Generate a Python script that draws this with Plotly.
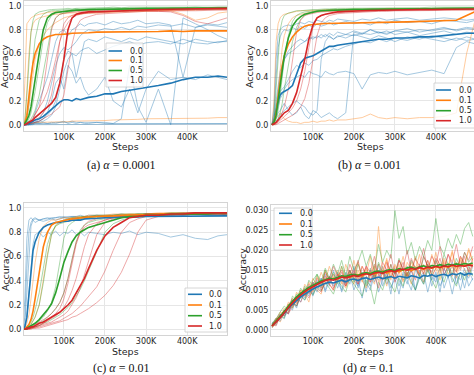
import plotly.graph_objects as go

W, H = 474, 375

# ---------------- data ----------------
STEPS_K = [0, 5, 10, 15, 20, 25, 30, 40, 50, 60, 70, 80, 90, 100, 110, 120, 130, 140, 150, 160,
           180, 200, 220, 240, 260, 280, 300, 330, 360, 390, 420, 450, 475, 497]
STEPS_D_K = [0, 10, 20, 30, 40, 50, 60, 70, 80, 90, 100, 110, 120, 130, 140, 150, 160, 170, 180, 190,
             200, 210, 220, 230, 240, 250, 260, 270, 280, 290, 300, 310, 320, 330, 340, 350, 360, 370,
             380, 390, 400, 410, 420, 430, 440, 450, 460, 470, 480, 490]
SERIES = ["0.0", "0.1", "0.5", "1.0"]
X_TICKS_K = [100, 200, 300, 400]
X_TICK_TEXT = ["100K", "200K", "300K", "400K"]
Y_TICKS_ABC = [0.0, 0.2, 0.4, 0.6, 0.8, 1.0]
Y_TICKS_D = [0.0, 0.005, 0.01, 0.015, 0.02, 0.025, 0.03]
CAPTIONS = ["(a) <i>α</i> = 0.0001", "(b) <i>α</i> = 0.001", "(c) <i>α</i> = 0.01", "(d) <i>α</i> = 0.1"]

# ---- panel (a) alpha = 0.0001 ----
A_MEAN_00 = [0, 0, 0.01, 0.01, 0.02, 0.03, 0.04, 0.05, 0.07, 0.1, 0.13, 0.16, 0.19, 0.21, 0.21, 0.2, 0.22, 0.21, 0.22, 0.23,
             0.24, 0.26, 0.26, 0.28, 0.29, 0.3, 0.31, 0.33, 0.35, 0.38, 0.4, 0.4, 0.41, 0.4]
A_MEAN_01 = [0, 0.01, 0.08, 0.25, 0.4, 0.52, 0.6, 0.68, 0.72, 0.74, 0.75, 0.76, 0.76, 0.76, 0.765, 0.77, 0.77, 0.77, 0.775, 0.775,
             0.78, 0.78, 0.78, 0.78, 0.78, 0.785, 0.785, 0.785, 0.79, 0.785, 0.79, 0.79, 0.79, 0.79]
A_MEAN_05 = [0, 0.01, 0.04, 0.08, 0.15, 0.25, 0.38, 0.6, 0.8, 0.9, 0.93, 0.945, 0.95, 0.955, 0.96, 0.96, 0.965, 0.965, 0.97, 0.97,
             0.97, 0.972, 0.974, 0.975, 0.976, 0.977, 0.978, 0.978, 0.979, 0.98, 0.98, 0.981, 0.982, 0.982]
A_MEAN_10 = [0, 0, 0.01, 0.02, 0.03, 0.04, 0.06, 0.09, 0.12, 0.15, 0.18, 0.23, 0.35, 0.55, 0.8, 0.9, 0.93, 0.94, 0.945, 0.95,
             0.952, 0.955, 0.958, 0.96, 0.962, 0.965, 0.967, 0.97, 0.972, 0.974, 0.976, 0.977, 0.978, 0.98]

A_RUNS_00 = [
    [0, 0, 0, 0, 0.01, 0.01, 0.02, 0.05, 0.1, 0.2, 0.35, 0.5, 0.6, 0.65, 0.63, 0.66, 0.7, 0.75, 0.78, 0.8,
     0.79, 0.81, 0.8, 0.82, 0.8, 0.83, 0.82, 0.84, 0.83, 0.85, 0.82, 0.84, 0.83, 0.82],
    [0, 0, 0, 0, 0, 0.01, 0.01, 0.02, 0.03, 0.05, 0.08, 0.15, 0.3, 0.45, 0.55, 0.6, 0.58, 0.62, 0.64, 0.65,
     0.6, 0.63, 0.66, 0.68, 0.7, 0.67, 0.69, 0.7, 0.68, 0.72, 0.69, 0.68, 0.7, 0.7],
    [0, 0, 0, 0.01, 0.01, 0.02, 0.02, 0.03, 0.05, 0.1, 0.2, 0.35, 0.4, 0.3, 0.5, 0.45, 0.35, 0.4, 0.3, 0.25,
     0.3, 0.4, 0.2, 0.15, 0.3, 0.1, 0.3, 0.45, 0.38, 0.4, 0.38, 0.42, 0.4, 0.38],
    [0, 0, 0, 0, 0, 0, 0.01, 0.01, 0.01, 0.01, 0.01, 0.02, 0.02, 0.02, 0.02, 0.03, 0.02, 0.02, 0.02, 0.02,
     0.02, 0.02, 0.01, 0.05, 0.5, 0.15, 0.02, 0.3, 0.0, 0.9, 0.85, 0.8, 0.75, 0.72],
    [0, 0, 0, 0.01, 0.02, 0.05, 0.1, 0.2, 0.3, 0.4, 0.55, 0.7, 0.78, 0.8, 0.75, 0.8, 0.82, 0.85, 0.83, 0.85,
     0.86, 0.84, 0.87, 0.85, 0.86, 0.88, 0.85, 0.86, 0.84, 0.4, 0.82, 0.85, 0.84, 0.86],
    [0, 0, 0.002, 0.003, 0.004, 0.005, 0.005, 0.006, 0.005, 0.006, 0.005, 0.006, 0.005, 0.006, 0.005, 0.006, 0.005, 0.006, 0.005, 0.006,
     0.005, 0.006, 0.005, 0.006, 0.005, 0.006, 0.005, 0.006, 0.005, 0.006, 0.005, 0.006, 0.005, 0.006],
    [0, 0.01, 0.02, 0.03, 0.02, 0.01, 0.02, 0.01, 0.02, 0.01, 0.02, 0.01, 0.02, 0.03, 0.01, 0.02, 0.01, 0.02, 0.01, 0.01,
     0.02, 0.01, 0.01, 0.01, 0.01, 0.01, 0.01, 0.01, 0.01, 0.01, 0.01, 0.01, 0.01, 0.01],
    [0, 0, 0, 0, 0.01, 0.01, 0.02, 0.03, 0.05, 0.08, 0.12, 0.2, 0.35, 0.55, 0.62, 0.6, 0.4, 0.55, 0.7, 0.72,
     0.7, 0.74, 0.72, 0.7, 0.73, 0.71, 0.74, 0.72, 0.7, 0.68, 0.72, 0.7, 0.69, 0.71],
]
A_RUNS_01 = [
    [0, 0.35, 0.85, 0.88, 0.9, 0.91, 0.92, 0.93, 0.94, 0.945, 0.95, 0.95, 0.955, 0.955, 0.96, 0.96, 0.96, 0.965, 0.965, 0.965,
     0.97, 0.97, 0.97, 0.97, 0.975, 0.975, 0.975, 0.975, 0.98, 0.98, 0.98, 0.98, 0.98, 0.98],
    [0, 0.03, 0.3, 0.6, 0.78, 0.85, 0.88, 0.9, 0.91, 0.92, 0.925, 0.93, 0.93, 0.935, 0.94, 0.94, 0.94, 0.945, 0.945, 0.95,
     0.95, 0.95, 0.955, 0.955, 0.96, 0.96, 0.96, 0.96, 0.965, 0.965, 0.965, 0.97, 0.97, 0.97],
    [0, 0, 0.005, 0.01, 0.01, 0.015, 0.015, 0.02, 0.02, 0.02, 0.02, 0.02, 0.025, 0.025, 0.025, 0.03, 0.03, 0.03, 0.03, 0.03,
     0.035, 0.035, 0.04, 0.04, 0.045, 0.045, 0.05, 0.05, 0.05, 0.055, 0.055, 0.055, 0.06, 0.06],
    [0, 0.01, 0.05, 0.15, 0.3, 0.45, 0.55, 0.68, 0.75, 0.8, 0.83, 0.86, 0.88, 0.9, 0.91, 0.92, 0.93, 0.93, 0.935, 0.94,
     0.94, 0.945, 0.95, 0.95, 0.95, 0.955, 0.955, 0.96, 0.96, 0.93, 0.88, 0.9, 0.94, 0.95],
]
A_RUNS_05 = [
    [0, 0.03, 0.25, 0.55, 0.78, 0.88, 0.93, 0.95, 0.96, 0.965, 0.97, 0.97, 0.975, 0.975, 0.98, 0.975, 0.98, 0.98, 0.985, 0.98,
     0.985, 0.985, 0.99, 0.985, 0.99, 0.99, 0.99, 0.99, 0.99, 0.99, 0.99, 0.99, 0.99, 0.99],
    [0, 0.01, 0.06, 0.18, 0.38, 0.58, 0.72, 0.88, 0.93, 0.95, 0.96, 0.96, 0.965, 0.97, 0.97, 0.97, 0.975, 0.97, 0.975, 0.975,
     0.98, 0.98, 0.98, 0.98, 0.985, 0.98, 0.985, 0.985, 0.985, 0.985, 0.99, 0.985, 0.99, 0.99],
    [0, 0, 0.02, 0.05, 0.1, 0.18, 0.28, 0.5, 0.72, 0.86, 0.92, 0.94, 0.95, 0.955, 0.96, 0.96, 0.965, 0.965, 0.97, 0.97,
     0.97, 0.975, 0.975, 0.975, 0.98, 0.98, 0.98, 0.98, 0.98, 0.985, 0.985, 0.985, 0.985, 0.985],
    [0, 0, 0.01, 0.03, 0.05, 0.08, 0.12, 0.25, 0.45, 0.65, 0.82, 0.9, 0.93, 0.94, 0.95, 0.955, 0.96, 0.96, 0.96, 0.965,
     0.965, 0.97, 0.97, 0.97, 0.975, 0.975, 0.975, 0.975, 0.98, 0.98, 0.98, 0.98, 0.98, 0.98],
]
A_RUNS_10 = [
    [0, 0, 0.01, 0.02, 0.03, 0.05, 0.08, 0.15, 0.3, 0.55, 0.8, 0.9, 0.93, 0.94, 0.945, 0.95, 0.95, 0.955, 0.955, 0.96,
     0.96, 0.96, 0.965, 0.965, 0.965, 0.97, 0.97, 0.97, 0.975, 0.975, 0.975, 0.975, 0.98, 0.98],
    [0, 0, 0, 0.01, 0.02, 0.03, 0.04, 0.06, 0.1, 0.15, 0.25, 0.45, 0.7, 0.85, 0.9, 0.92, 0.93, 0.935, 0.94, 0.945,
     0.95, 0.95, 0.955, 0.955, 0.96, 0.96, 0.96, 0.965, 0.965, 0.965, 0.97, 0.97, 0.97, 0.97],
    [0, 0, 0, 0.01, 0.01, 0.02, 0.02, 0.03, 0.05, 0.07, 0.09, 0.12, 0.15, 0.25, 0.45, 0.68, 0.82, 0.88, 0.9, 0.91,
     0.93, 0.935, 0.94, 0.945, 0.95, 0.95, 0.955, 0.955, 0.96, 0.96, 0.96, 0.965, 0.965, 0.965],
    [0, 0, 0.01, 0.02, 0.04, 0.06, 0.09, 0.14, 0.2, 0.28, 0.4, 0.55, 0.7, 0.8, 0.86, 0.9, 0.92, 0.93, 0.94, 0.94,
     0.945, 0.95, 0.95, 0.955, 0.955, 0.96, 0.96, 0.955, 0.95, 0.92, 0.87, 0.85, 0.88, 0.9],
]

# ---- panel (b) alpha = 0.001 ----
B_MEAN_00 = [0, 0.03, 0.12, 0.2, 0.25, 0.27, 0.28, 0.3, 0.33, 0.43, 0.52, 0.56, 0.57, 0.58, 0.6, 0.62, 0.64, 0.66, 0.66, 0.67,
             0.68, 0.69, 0.7, 0.71, 0.72, 0.72, 0.73, 0.73, 0.74, 0.74, 0.75, 0.76, 0.77, 0.77]
B_MEAN_01 = [0, 0.02, 0.1, 0.25, 0.4, 0.5, 0.58, 0.68, 0.74, 0.78, 0.81, 0.83, 0.84, 0.845, 0.85, 0.85, 0.852, 0.853, 0.855, 0.855,
             0.856, 0.857, 0.858, 0.86, 0.86, 0.862, 0.864, 0.866, 0.868, 0.87, 0.872, 0.88, 0.92, 0.955]
B_MEAN_05 = [0, 0.02, 0.08, 0.2, 0.35, 0.48, 0.58, 0.73, 0.83, 0.88, 0.91, 0.93, 0.94, 0.95, 0.955, 0.96, 0.962, 0.964, 0.965, 0.966,
             0.968, 0.97, 0.971, 0.972, 0.973, 0.974, 0.975, 0.976, 0.977, 0.978, 0.979, 0.98, 0.98, 0.98]
B_MEAN_10 = [0, 0.01, 0.02, 0.04, 0.06, 0.08, 0.1, 0.12, 0.18, 0.27, 0.4, 0.55, 0.72, 0.84, 0.9, 0.92, 0.93, 0.94, 0.945, 0.95,
             0.955, 0.958, 0.96, 0.962, 0.964, 0.965, 0.966, 0.968, 0.97, 0.97, 0.972, 0.973, 0.974, 0.975]

B_RUNS_00 = [
    [0, 0.1, 0.4, 0.65, 0.74, 0.78, 0.8, 0.79, 0.82, 0.8, 0.83, 0.81, 0.84, 0.82, 0.85, 0.83, 0.84, 0.86, 0.84, 0.85,
     0.87, 0.85, 0.86, 0.84, 0.87, 0.85, 0.88, 0.86, 0.87, 0.85, 0.88, 0.87, 0.86, 0.88],
    [0, 0.05, 0.2, 0.35, 0.45, 0.5, 0.55, 0.6, 0.62, 0.65, 0.68, 0.7, 0.72, 0.74, 0.73, 0.76, 0.74, 0.77, 0.75, 0.78,
     0.76, 0.79, 0.77, 0.8, 0.78, 0.76, 0.79, 0.81, 0.78, 0.8, 0.82, 0.79, 0.81, 0.8],
    [0, 0.02, 0.1, 0.2, 0.28, 0.3, 0.32, 0.38, 0.45, 0.5, 0.48, 0.52, 0.5, 0.54, 0.55, 0.58, 0.6, 0.62, 0.64, 0.63,
     0.66, 0.68, 0.7, 0.69, 0.72, 0.7, 0.73, 0.71, 0.74, 0.72, 0.7, 0.73, 0.71, 0.72],
    [0, 0.02, 0.05, 0.1, 0.12, 0.15, 0.18, 0.12, 0.08, 0.1, 0.15, 0.08, 0.05, 0.12, 0.1, 0.06, 0.08, 0.1, 0.07, 0.05,
     0.1, 0.78, 0.76, 0.8, 0.77, 0.79, 0.76, 0.78, 0.75, 0.77, 0.79, 0.76, 0.78, 0.77],
    [0, 0.02, 0.08, 0.15, 0.22, 0.25, 0.3, 0.35, 0.38, 0.4, 0.42, 0.4, 0.45, 0.43, 0.42, 0.4, 0.45, 0.43, 0.42, 0.44,
     0.45, 0.43, 0.3, 0.42, 0.44, 0.43, 0.45, 0.42, 0.44, 0.46, 0.43, 0.65, 0.7, 0.68],
    [0, 0.01, 0.03, 0.05, 0.08, 0.1, 0.12, 0.15, 0.18, 0.2, 0.17, 0.15, 0.1, 0.08, 0.12, 0.55, 0.7, 0.75, 0.72, 0.74,
     0.76, 0.75, 0.77, 0.76, 0.78, 0.77, 0.79, 0.78, 0.8, 0.79, 0.81, 0.8, 0.82, 0.81],
    [0, 0.15, 0.55, 0.75, 0.8, 0.82, 0.83, 0.84, 0.83, 0.85, 0.86, 0.85, 0.87, 0.86, 0.88, 0.87, 0.86, 0.88, 0.87, 0.89,
     0.88, 0.87, 0.89, 0.88, 0.9, 0.88, 0.89, 0.9, 0.88, 0.89, 0.9, 0.89, 0.88, 0.89],
    [0, 0.04, 0.15, 0.3, 0.4, 0.48, 0.55, 0.62, 0.66, 0.7, 0.72, 0.7, 0.74, 0.72, 0.75, 0.73, 0.76, 0.74, 0.72, 0.75,
     0.73, 0.76, 0.74, 0.72, 0.75, 0.73, 0.7, 0.74, 0.72, 0.75, 0.73, 0.71, 0.74, 0.72],
]
B_RUNS_01 = [
    [0, 0.2, 0.7, 0.85, 0.9, 0.92, 0.93, 0.94, 0.95, 0.955, 0.96, 0.96, 0.96, 0.965, 0.965, 0.965, 0.97, 0.97, 0.97, 0.97,
     0.975, 0.975, 0.975, 0.975, 0.975, 0.98, 0.98, 0.98, 0.98, 0.98, 0.98, 0.98, 0.98, 0.98],
    [0, 0.02, 0.1, 0.3, 0.5, 0.65, 0.75, 0.85, 0.9, 0.92, 0.93, 0.94, 0.945, 0.95, 0.95, 0.955, 0.955, 0.96, 0.96, 0.96,
     0.96, 0.965, 0.965, 0.965, 0.965, 0.97, 0.97, 0.97, 0.97, 0.97, 0.97, 0.97, 0.97, 0.97],
    [0, 0.02, 0.05, 0.08, 0.1, 0.07, 0.05, 0.03, 0.02, 0.02, 0.01, 0.02, 0.02, 0.03, 0.02, 0.03, 0.03, 0.04, 0.03, 0.04,
     0.04, 0.05, 0.06, 0.09, 0.06, 0.05, 0.06, 0.05, 0.06, 0.06, 0.07, 0.1, 0.6, 0.9],
]
B_RUNS_05 = [
    [0, 0.05, 0.3, 0.6, 0.8, 0.88, 0.92, 0.94, 0.95, 0.96, 0.96, 0.965, 0.97, 0.97, 0.97, 0.975, 0.975, 0.975, 0.98, 0.98,
     0.98, 0.98, 0.98, 0.985, 0.985, 0.985, 0.985, 0.985, 0.985, 0.99, 0.99, 0.99, 0.99, 0.99],
    [0, 0.01, 0.05, 0.12, 0.25, 0.4, 0.55, 0.75, 0.87, 0.92, 0.94, 0.95, 0.955, 0.96, 0.96, 0.965, 0.965, 0.97, 0.97, 0.97,
     0.975, 0.975, 0.975, 0.975, 0.98, 0.98, 0.98, 0.98, 0.98, 0.98, 0.985, 0.985, 0.985, 0.985],
    [0, 0, 0.02, 0.05, 0.1, 0.18, 0.3, 0.5, 0.7, 0.82, 0.89, 0.92, 0.94, 0.95, 0.955, 0.96, 0.96, 0.965, 0.965, 0.965,
     0.97, 0.97, 0.97, 0.975, 0.975, 0.975, 0.975, 0.98, 0.98, 0.98, 0.98, 0.98, 0.98, 0.98],
]
B_RUNS_10 = [
    [0, 0, 0.01, 0.03, 0.06, 0.1, 0.15, 0.3, 0.55, 0.78, 0.88, 0.92, 0.93, 0.94, 0.945, 0.95, 0.95, 0.955, 0.955, 0.96,
     0.96, 0.96, 0.965, 0.965, 0.965, 0.97, 0.97, 0.97, 0.97, 0.975, 0.975, 0.975, 0.975, 0.975],
    [0, 0, 0.01, 0.02, 0.04, 0.05, 0.07, 0.1, 0.14, 0.2, 0.3, 0.45, 0.65, 0.82, 0.9, 0.92, 0.93, 0.935, 0.94, 0.945,
     0.95, 0.95, 0.955, 0.955, 0.96, 0.96, 0.96, 0.965, 0.965, 0.965, 0.97, 0.97, 0.97, 0.97],
    [0, 0, 0, 0.01, 0.02, 0.03, 0.04, 0.06, 0.08, 0.11, 0.15, 0.22, 0.35, 0.55, 0.75, 0.86, 0.9, 0.92, 0.93, 0.935,
     0.94, 0.945, 0.95, 0.95, 0.955, 0.955, 0.96, 0.96, 0.96, 0.965, 0.965, 0.965, 0.965, 0.965],
]

# ---- panel (c) alpha = 0.01 ----
C_MEAN_00 = [0, 0.02, 0.1, 0.3, 0.5, 0.65, 0.72, 0.8, 0.84, 0.86, 0.87, 0.88, 0.88, 0.89, 0.89, 0.9, 0.9, 0.9, 0.91, 0.91,
             0.915, 0.92, 0.92, 0.92, 0.925, 0.925, 0.93, 0.93, 0.93, 0.93, 0.93, 0.935, 0.935, 0.935]
C_MEAN_01 = [0, 0, 0.02, 0.04, 0.08, 0.15, 0.25, 0.47, 0.68, 0.8, 0.86, 0.88, 0.89, 0.9, 0.905, 0.91, 0.915, 0.92, 0.92, 0.925,
             0.93, 0.93, 0.935, 0.94, 0.94, 0.945, 0.945, 0.95, 0.95, 0.955, 0.955, 0.96, 0.96, 0.96]
C_MEAN_05 = [0, 0, 0.01, 0.02, 0.03, 0.04, 0.05, 0.08, 0.12, 0.16, 0.21, 0.3, 0.42, 0.55, 0.64, 0.72, 0.77, 0.8, 0.82, 0.84,
             0.86, 0.88, 0.9, 0.92, 0.93, 0.93, 0.94, 0.94, 0.95, 0.95, 0.95, 0.95, 0.96, 0.96]
C_MEAN_10 = [0, 0, 0.01, 0.01, 0.02, 0.02, 0.03, 0.05, 0.06, 0.08, 0.1, 0.12, 0.14, 0.17, 0.2, 0.24, 0.3, 0.36, 0.42, 0.5,
             0.65, 0.77, 0.84, 0.88, 0.92, 0.93, 0.94, 0.94, 0.95, 0.95, 0.96, 0.96, 0.96, 0.96]

C_RUNS_00 = [
    [0, 0.25, 0.75, 0.9, 0.92, 0.9, 0.91, 0.9, 0.91, 0.92, 0.91, 0.92, 0.92, 0.93, 0.92, 0.93, 0.93, 0.92, 0.93, 0.93,
     0.94, 0.93, 0.94, 0.94, 0.93, 0.94, 0.94, 0.94, 0.95, 0.94, 0.95, 0.94, 0.95, 0.95],
    [0, 0.05, 0.3, 0.62, 0.85, 0.9, 0.88, 0.9, 0.89, 0.9, 0.91, 0.9, 0.91, 0.92, 0.91, 0.92, 0.92, 0.92, 0.93, 0.92,
     0.93, 0.93, 0.93, 0.94, 0.93, 0.94, 0.94, 0.94, 0.94, 0.94, 0.95, 0.94, 0.94, 0.95],
    [0, 0.02, 0.1, 0.3, 0.5, 0.7, 0.78, 0.8, 0.76, 0.8, 0.78, 0.81, 0.77, 0.8, 0.79, 0.82, 0.78, 0.8, 0.77, 0.8,
     0.79, 0.78, 0.8, 0.79, 0.81, 0.78, 0.8, 0.79, 0.76, 0.78, 0.75, 0.74, 0.77, 0.78],
    [0, 0.1, 0.5, 0.8, 0.88, 0.91, 0.92, 0.9, 0.91, 0.91, 0.92, 0.92, 0.93, 0.92, 0.93, 0.93, 0.93, 0.94, 0.93, 0.94,
     0.94, 0.94, 0.94, 0.95, 0.94, 0.95, 0.95, 0.95, 0.95, 0.95, 0.95, 0.95, 0.95, 0.95],
]
C_RUNS_01 = [
    [0, 0.01, 0.05, 0.12, 0.25, 0.4, 0.55, 0.75, 0.85, 0.88, 0.9, 0.9, 0.91, 0.92, 0.92, 0.92, 0.93, 0.93, 0.93, 0.94,
     0.94, 0.94, 0.95, 0.95, 0.95, 0.95, 0.95, 0.96, 0.96, 0.96, 0.96, 0.96, 0.96, 0.96],
    [0, 0, 0.01, 0.02, 0.04, 0.07, 0.1, 0.2, 0.4, 0.62, 0.78, 0.85, 0.88, 0.9, 0.9, 0.91, 0.92, 0.92, 0.93, 0.93,
     0.93, 0.94, 0.94, 0.94, 0.95, 0.95, 0.95, 0.95, 0.96, 0.96, 0.96, 0.96, 0.96, 0.96],
]
C_RUNS_05 = [
    [0, 0, 0.01, 0.02, 0.04, 0.07, 0.1, 0.2, 0.38, 0.6, 0.78, 0.86, 0.89, 0.9, 0.91, 0.92, 0.92, 0.93, 0.93, 0.93,
     0.94, 0.94, 0.94, 0.95, 0.95, 0.95, 0.95, 0.95, 0.96, 0.96, 0.96, 0.96, 0.96, 0.96],
    [0, 0, 0, 0.01, 0.02, 0.03, 0.04, 0.07, 0.1, 0.15, 0.22, 0.35, 0.55, 0.75, 0.85, 0.88, 0.9, 0.91, 0.92, 0.92,
     0.93, 0.93, 0.94, 0.94, 0.94, 0.95, 0.95, 0.95, 0.95, 0.95, 0.96, 0.96, 0.96, 0.96],
    [0, 0, 0, 0.01, 0.01, 0.02, 0.03, 0.05, 0.07, 0.1, 0.13, 0.17, 0.22, 0.3, 0.42, 0.58, 0.72, 0.82, 0.86, 0.88,
     0.9, 0.91, 0.92, 0.93, 0.93, 0.94, 0.94, 0.94, 0.95, 0.95, 0.95, 0.95, 0.95, 0.95],
    [0, 0, 0, 0.01, 0.01, 0.02, 0.02, 0.03, 0.05, 0.06, 0.08, 0.1, 0.12, 0.15, 0.18, 0.22, 0.27, 0.33, 0.4, 0.48,
     0.65, 0.8, 0.87, 0.9, 0.92, 0.93, 0.93, 0.94, 0.94, 0.95, 0.95, 0.95, 0.95, 0.95],
    [0, 0, 0.01, 0.03, 0.06, 0.1, 0.16, 0.3, 0.5, 0.7, 0.8, 0.85, 0.87, 0.88, 0.89, 0.9, 0.9, 0.91, 0.91, 0.92,
     0.92, 0.93, 0.93, 0.94, 0.94, 0.94, 0.95, 0.95, 0.95, 0.95, 0.95, 0.96, 0.96, 0.96],
]
C_RUNS_10 = [
    [0, 0, 0, 0.01, 0.01, 0.02, 0.02, 0.04, 0.05, 0.07, 0.1, 0.13, 0.17, 0.25, 0.38, 0.55, 0.7, 0.8, 0.86, 0.89,
     0.91, 0.92, 0.93, 0.93, 0.94, 0.94, 0.95, 0.95, 0.95, 0.95, 0.96, 0.96, 0.96, 0.96],
    [0, 0, 0, 0.01, 0.01, 0.01, 0.02, 0.03, 0.04, 0.05, 0.06, 0.08, 0.1, 0.12, 0.15, 0.2, 0.26, 0.34, 0.45, 0.58,
     0.78, 0.88, 0.91, 0.92, 0.93, 0.93, 0.94, 0.94, 0.95, 0.95, 0.95, 0.95, 0.96, 0.96],
    [0, 0, 0, 0, 0.01, 0.01, 0.01, 0.02, 0.03, 0.04, 0.05, 0.06, 0.07, 0.09, 0.11, 0.13, 0.16, 0.19, 0.23, 0.27,
     0.35, 0.48, 0.65, 0.8, 0.88, 0.91, 0.93, 0.94, 0.94, 0.95, 0.95, 0.95, 0.95, 0.95],
    [0, 0, 0, 0, 0, 0.01, 0.01, 0.01, 0.02, 0.03, 0.04, 0.05, 0.06, 0.07, 0.08, 0.1, 0.11, 0.13, 0.15, 0.17,
     0.22, 0.28, 0.36, 0.47, 0.62, 0.8, 0.9, 0.93, 0.94, 0.94, 0.95, 0.95, 0.95, 0.95],
    [0, 0, 0, 0.01, 0.01, 0.02, 0.02, 0.03, 0.05, 0.07, 0.09, 0.11, 0.14, 0.18, 0.24, 0.32, 0.42, 0.55, 0.68, 0.78,
     0.87, 0.9, 0.92, 0.93, 0.93, 0.94, 0.94, 0.95, 0.95, 0.95, 0.95, 0.96, 0.96, 0.96],
    [0, 0, 0.01, 0.01, 0.02, 0.03, 0.04, 0.06, 0.08, 0.1, 0.13, 0.17, 0.22, 0.3, 0.42, 0.58, 0.72, 0.8, 0.84, 0.86,
     0.88, 0.9, 0.92, 0.93, 0.94, 0.94, 0.95, 0.95, 0.95, 0.96, 0.96, 0.96, 0.96, 0.96],
]

# ---- panel (d) alpha = 0.1 ----
D_MEAN_00 = [0.0010, 0.0020, 0.0030, 0.0042, 0.0055, 0.0065, 0.0075, 0.0083, 0.0090, 0.0097, 0.0103, 0.0108, 0.0113, 0.0117, 0.0120,
             0.0118, 0.0122, 0.0125, 0.0121, 0.0126, 0.0128, 0.0124, 0.0129, 0.0131, 0.0127, 0.0130, 0.0133, 0.0129, 0.0132, 0.0134,
             0.0130, 0.0135, 0.0133, 0.0131, 0.0136, 0.0134, 0.0130, 0.0137, 0.0135, 0.0139, 0.0134, 0.0138, 0.0140, 0.0136, 0.0141,
             0.0139, 0.0143, 0.0138, 0.0142, 0.0140]
D_MEAN_01 = [0.0010, 0.0021, 0.0032, 0.0045, 0.0058, 0.0070, 0.0080, 0.0089, 0.0097, 0.0104, 0.0110, 0.0116, 0.0121, 0.0125, 0.0127,
             0.0130, 0.0128, 0.0133, 0.0135, 0.0132, 0.0137, 0.0139, 0.0136, 0.0141, 0.0143, 0.0140, 0.0145, 0.0147, 0.0143, 0.0148,
             0.0150, 0.0146, 0.0151, 0.0153, 0.0149, 0.0154, 0.0156, 0.0152, 0.0157, 0.0155, 0.0159, 0.0156, 0.0160, 0.0158, 0.0162,
             0.0159, 0.0163, 0.0161, 0.0164, 0.0162]
D_MEAN_05 = [0.0011, 0.0022, 0.0034, 0.0047, 0.0060, 0.0072, 0.0083, 0.0092, 0.0100, 0.0107, 0.0113, 0.0118, 0.0123, 0.0126, 0.0130,
             0.0128, 0.0133, 0.0136, 0.0134, 0.0138, 0.0140, 0.0137, 0.0142, 0.0144, 0.0141, 0.0146, 0.0148, 0.0145, 0.0150, 0.0152,
             0.0149, 0.0154, 0.0151, 0.0156, 0.0158, 0.0154, 0.0159, 0.0161, 0.0157, 0.0162, 0.0160, 0.0164, 0.0161, 0.0165, 0.0163,
             0.0166, 0.0164, 0.0167, 0.0165, 0.0168]
D_MEAN_10 = [0.0010, 0.0020, 0.0031, 0.0043, 0.0056, 0.0068, 0.0079, 0.0088, 0.0096, 0.0103, 0.0109, 0.0115, 0.0120, 0.0124, 0.0127,
             0.0125, 0.0130, 0.0133, 0.0131, 0.0135, 0.0137, 0.0134, 0.0139, 0.0141, 0.0138, 0.0143, 0.0145, 0.0142, 0.0147, 0.0149,
             0.0146, 0.0151, 0.0153, 0.0150, 0.0155, 0.0152, 0.0157, 0.0154, 0.0158, 0.0156, 0.0160, 0.0157, 0.0161, 0.0159, 0.0163,
             0.0160, 0.0162, 0.0160, 0.0163, 0.0161]

D_RUNS_00 = [
    [0.0015, 0.0030, 0.0022, 0.0050, 0.0040, 0.0075, 0.0060, 0.0095, 0.0080, 0.0110, 0.0090, 0.0125, 0.0105, 0.0140, 0.0110,
     0.0150, 0.0120, 0.0100, 0.0145, 0.0115, 0.0160, 0.0105, 0.0135, 0.0095, 0.0150, 0.0120, 0.0165, 0.0110, 0.0140, 0.0090,
     0.0155, 0.0125, 0.0105, 0.0160, 0.0130, 0.0100, 0.0150, 0.0120, 0.0165, 0.0110, 0.0140, 0.0095, 0.0155, 0.0130, 0.0170,
     0.0115, 0.0145, 0.0105, 0.0150, 0.0125],
    [0.0005, 0.0018, 0.0035, 0.0028, 0.0060, 0.0050, 0.0085, 0.0070, 0.0100, 0.0085, 0.0120, 0.0095, 0.0130, 0.0100, 0.0135,
     0.0110, 0.0145, 0.0095, 0.0125, 0.0140, 0.0100, 0.0130, 0.0080, 0.0135, 0.0110, 0.0150, 0.0095, 0.0125, 0.0145, 0.0105,
     0.0130, 0.0090, 0.0140, 0.0115, 0.0155, 0.0100, 0.0130, 0.0145, 0.0095, 0.0135, 0.0120, 0.0160, 0.0105, 0.0135, 0.0090,
     0.0140, 0.0125, 0.0155, 0.0110, 0.0130],
    [0.0020, 0.0012, 0.0040, 0.0035, 0.0045, 0.0070, 0.0055, 0.0090, 0.0075, 0.0105, 0.0085, 0.0115, 0.0130, 0.0095, 0.0125,
     0.0140, 0.0105, 0.0130, 0.0115, 0.0150, 0.0125, 0.0110, 0.0145, 0.0120, 0.0100, 0.0140, 0.0125, 0.0160, 0.0115, 0.0135,
     0.0150, 0.0110, 0.0145, 0.0125, 0.0100, 0.0150, 0.0135, 0.0115, 0.0155, 0.0125, 0.0145, 0.0110, 0.0135, 0.0160, 0.0120,
     0.0140, 0.0100, 0.0145, 0.0130, 0.0160],
]
D_RUNS_01 = [
    [0.0010, 0.0025, 0.0045, 0.0040, 0.0070, 0.0060, 0.0095, 0.0080, 0.0115, 0.0100, 0.0130, 0.0110, 0.0145, 0.0120, 0.0160,
     0.0130, 0.0150, 0.0115, 0.0165, 0.0135, 0.0175, 0.0125, 0.0160, 0.0140, 0.0185, 0.0130, 0.0260, 0.0150, 0.0175, 0.0125,
     0.0165, 0.0145, 0.0185, 0.0135, 0.0170, 0.0150, 0.0190, 0.0140, 0.0175, 0.0155, 0.0195, 0.0145, 0.0180, 0.0160, 0.0200,
     0.0150, 0.0185, 0.0165, 0.0205, 0.0175],
    [0.0005, 0.0015, 0.0030, 0.0055, 0.0045, 0.0080, 0.0065, 0.0100, 0.0085, 0.0120, 0.0095, 0.0135, 0.0105, 0.0150, 0.0115,
     0.0140, 0.0125, 0.0160, 0.0110, 0.0145, 0.0130, 0.0170, 0.0120, 0.0155, 0.0135, 0.0115, 0.0165, 0.0140, 0.0180, 0.0130,
     0.0160, 0.0145, 0.0120, 0.0170, 0.0150, 0.0185, 0.0135, 0.0165, 0.0145, 0.0190, 0.0160, 0.0140, 0.0175, 0.0155, 0.0195,
     0.0145, 0.0180, 0.0160, 0.0200, 0.0170],
    [0.0012, 0.0030, 0.0020, 0.0045, 0.0065, 0.0055, 0.0080, 0.0100, 0.0090, 0.0070, 0.0115, 0.0100, 0.0090, 0.0130, 0.0115,
     0.0100, 0.0140, 0.0120, 0.0105, 0.0135, 0.0115, 0.0150, 0.0125, 0.0105, 0.0140, 0.0160, 0.0120, 0.0145, 0.0110, 0.0150,
     0.0130, 0.0165, 0.0125, 0.0145, 0.0115, 0.0160, 0.0140, 0.0120, 0.0165, 0.0135, 0.0155, 0.0125, 0.0170, 0.0140, 0.0160,
     0.0130, 0.0175, 0.0150, 0.0135, 0.0165],
]
D_RUNS_05 = [
    [0.0015, 0.0028, 0.0045, 0.0060, 0.0050, 0.0085, 0.0075, 0.0105, 0.0090, 0.0125, 0.0110, 0.0140, 0.0120, 0.0155, 0.0130,
     0.0165, 0.0140, 0.0175, 0.0135, 0.0185, 0.0150, 0.0170, 0.0200, 0.0160, 0.0190, 0.0150, 0.0215, 0.0170, 0.0200, 0.0180,
     0.0300, 0.0230, 0.0260, 0.0190, 0.0220, 0.0175, 0.0210, 0.0185, 0.0225, 0.0200, 0.0280, 0.0210, 0.0190, 0.0230, 0.0205,
     0.0240, 0.0215, 0.0255, 0.0270, 0.0235],
    [0.0008, 0.0020, 0.0038, 0.0030, 0.0065, 0.0055, 0.0090, 0.0080, 0.0110, 0.0095, 0.0125, 0.0140, 0.0110, 0.0150, 0.0125,
     0.0145, 0.0115, 0.0160, 0.0130, 0.0150, 0.0120, 0.0165, 0.0140, 0.0110, 0.0155, 0.0130, 0.0170, 0.0145, 0.0125, 0.0165,
     0.0140, 0.0180, 0.0150, 0.0130, 0.0175, 0.0155, 0.0135, 0.0185, 0.0160, 0.0140, 0.0175, 0.0150, 0.0190, 0.0165, 0.0140,
     0.0180, 0.0155, 0.0195, 0.0170, 0.0185],
    [0.0010, 0.0018, 0.0030, 0.0042, 0.0058, 0.0068, 0.0060, 0.0085, 0.0075, 0.0100, 0.0088, 0.0110, 0.0098, 0.0120, 0.0105,
     0.0090, 0.0125, 0.0110, 0.0095, 0.0130, 0.0115, 0.0100, 0.0085, 0.0125, 0.0110, 0.0065, 0.0120, 0.0100, 0.0135, 0.0115,
     0.0095, 0.0130, 0.0110, 0.0145, 0.0120, 0.0100, 0.0135, 0.0115, 0.0150, 0.0125, 0.0105, 0.0140, 0.0120, 0.0155, 0.0130,
     0.0110, 0.0145, 0.0125, 0.0160, 0.0135],
]
D_RUNS_10 = [
    [0.0012, 0.0025, 0.0040, 0.0035, 0.0062, 0.0078, 0.0068, 0.0095, 0.0085, 0.0115, 0.0100, 0.0130, 0.0115, 0.0145, 0.0125,
     0.0160, 0.0135, 0.0150, 0.0120, 0.0165, 0.0140, 0.0175, 0.0130, 0.0160, 0.0145, 0.0185, 0.0135, 0.0170, 0.0150, 0.0190,
     0.0140, 0.0175, 0.0155, 0.0200, 0.0145, 0.0180, 0.0160, 0.0205, 0.0150, 0.0185, 0.0165, 0.0210, 0.0155, 0.0190, 0.0170,
     0.0215, 0.0160, 0.0195, 0.0175, 0.0210],
    [0.0008, 0.0020, 0.0028, 0.0050, 0.0042, 0.0070, 0.0060, 0.0085, 0.0105, 0.0090, 0.0120, 0.0105, 0.0095, 0.0135, 0.0115,
     0.0100, 0.0140, 0.0125, 0.0110, 0.0150, 0.0130, 0.0115, 0.0160, 0.0135, 0.0120, 0.0165, 0.0140, 0.0125, 0.0170, 0.0145,
     0.0130, 0.0175, 0.0150, 0.0135, 0.0180, 0.0155, 0.0140, 0.0185, 0.0160, 0.0145, 0.0180, 0.0165, 0.0150, 0.0190, 0.0160,
     0.0145, 0.0185, 0.0165, 0.0150, 0.0180],
    [0.0015, 0.0010, 0.0035, 0.0048, 0.0040, 0.0060, 0.0080, 0.0070, 0.0095, 0.0080, 0.0105, 0.0120, 0.0100, 0.0115, 0.0135,
     0.0105, 0.0125, 0.0145, 0.0110, 0.0130, 0.0150, 0.0115, 0.0135, 0.0160, 0.0120, 0.0140, 0.0105, 0.0150, 0.0130, 0.0165,
     0.0120, 0.0145, 0.0170, 0.0130, 0.0150, 0.0125, 0.0165, 0.0140, 0.0175, 0.0135, 0.0155, 0.0180, 0.0140, 0.0160, 0.0135,
     0.0170, 0.0150, 0.0185, 0.0145, 0.0165],
]

# ---------------- style ----------------
COLORS = ["#1f77b4", "#ff7f0e", "#2ca02c", "#d62728"]
TICK_FONT = dict(family="DejaVu Sans", size=8, color="#262626")
GRID = "#e6e6e6"
SPINE = "#d4d4d4"

# panel geometry in pixels: left, right, top, bottom
PANELS = [
    dict(px=(24, 227, 1, 131), xr=(3, 497), yr=(-0.053, 1.042), yt=Y_TICKS_ABC, fmt=".1f"),
    dict(px=(271, 474, 1, 131), xr=(-2.4, 493), yr=(-0.053, 1.042), yt=Y_TICKS_ABC, fmt=".1f"),
    dict(px=(24, 227, 203, 335), xr=(3, 497), yr=(-0.047, 1.041), yt=Y_TICKS_ABC, fmt=".1f"),
    dict(px=(271, 474, 205, 335.5), xr=(-2.4, 493), yr=(-0.0014, 0.0314), yt=Y_TICKS_D, fmt=".3f"),
]

DATA = [
    (STEPS_K, [A_RUNS_00, A_RUNS_01, A_RUNS_05, A_RUNS_10], [A_MEAN_00, A_MEAN_01, A_MEAN_05, A_MEAN_10]),
    (STEPS_K, [B_RUNS_00, B_RUNS_01, B_RUNS_05, B_RUNS_10], [B_MEAN_00, B_MEAN_01, B_MEAN_05, B_MEAN_10]),
    (STEPS_K, [C_RUNS_00, C_RUNS_01, C_RUNS_05, C_RUNS_10], [C_MEAN_00, C_MEAN_01, C_MEAN_05, C_MEAN_10]),
    (STEPS_D_K, [D_RUNS_00, D_RUNS_01, D_RUNS_05, D_RUNS_10], [D_MEAN_00, D_MEAN_01, D_MEAN_05, D_MEAN_10]),
]

# legends: (box left, right, top, bottom, row y list, line x0, x1, text x)
LEGENDS = [
    (106, 143, 43, 87, [51, 60.5, 70.5, 80.5], 108.5, 122, 128),
    (434, 476, 83, 128, [90, 100.3, 110.7, 120.7], 436, 451, 457),
    (185, 227, 288, 332, [294.3, 305, 315.7, 326], 188, 202, 207),
    (274, 311, 208, 250, [213.3, 224, 234.7, 245], 279, 292, 298),
]
CAPTION_POS = [(121, 165), (369, 165), (121, 368), (368.5, 368)]
STEPS_POS = [(125, 146.5), (370, 146.5), (125, 351), (370, 351)]
ACC_POS = [(5, 66), (250, 66), (5, 269), (241.5, 270)]


def fx(p):
    return p / W


def fy(p):
    return 1 - p / H


fig = go.Figure()
layout = dict(width=W, height=H, margin=dict(l=0, r=0, t=0, b=0),
              paper_bgcolor="white", plot_bgcolor="white", showlegend=False)
shapes, annotations = [], []

for i, (pan, (xs, runs, means)) in enumerate(zip(PANELS, DATA)):
    n = "" if i == 0 else str(i + 1)
    l, r, t, b = pan["px"]
    layout["xaxis" + n] = dict(domain=[fx(l), fx(r)], range=list(pan["xr"]), anchor="y" + n,
                               tickvals=X_TICKS_K, ticktext=X_TICK_TEXT, tickfont=TICK_FONT,
                               ticklabelstandoff=-2,
                               showgrid=True, gridcolor=GRID, gridwidth=1, zeroline=False,
                               showline=True, linecolor=SPINE, linewidth=1, mirror=True, ticks="")
    layout["yaxis" + n] = dict(domain=[fy(b), fy(t)], range=list(pan["yr"]), anchor="x" + n,
                               tickvals=pan["yt"], tickformat=pan["fmt"], tickfont=TICK_FONT,
                               showgrid=True, gridcolor=GRID, gridwidth=1, zeroline=False,
                               showline=True, linecolor=SPINE, linewidth=1, mirror=True, ticks="")
    # thin individual runs
    for c, group in enumerate(runs):
        for ys in group:
            fig.add_trace(go.Scatter(x=xs, y=ys, mode="lines", xaxis="x" + n, yaxis="y" + n,
                                     line=dict(color=COLORS[c], width=0.8), opacity=0.5,
                                     hoverinfo="skip"))
    # bold means
    for c, ys in enumerate(means):
        fig.add_trace(go.Scatter(x=xs, y=ys, mode="lines", xaxis="x" + n, yaxis="y" + n,
                                 line=dict(color=COLORS[c], width=1.6), name=SERIES[c]))

    # legend box
    bl, br, bt, bb, rows, lx0, lx1, tx = LEGENDS[i]
    shapes.append(dict(type="rect", xref="paper", yref="paper", x0=fx(bl), x1=fx(br), y0=fy(bb), y1=fy(bt),
                       fillcolor="rgba(255,255,255,0.8)", line=dict(color="#cccccc", width=0.8), layer="above"))
    for c, ry in enumerate(rows):
        shapes.append(dict(type="line", xref="paper", yref="paper", x0=fx(lx0), x1=fx(lx1), y0=fy(ry), y1=fy(ry),
                           line=dict(color=COLORS[c], width=1.6), layer="above"))
        annotations.append(dict(text=SERIES[c], xref="paper", yref="paper", x=fx(tx), y=fy(ry),
                                xanchor="left", yanchor="middle", showarrow=False,
                                font=dict(family="DejaVu Sans", size=8, color="#262626")))
    # titles
    sx, sy = STEPS_POS[i]
    annotations.append(dict(text="Steps", xref="paper", yref="paper", x=fx(sx), y=fy(sy),
                            xanchor="center", yanchor="middle", showarrow=False,
                            font=dict(family="DejaVu Sans", size=9.5, color="#262626")))
    ax, ay = ACC_POS[i]
    annotations.append(dict(text="Accuracy", xref="paper", yref="paper", x=fx(ax), y=fy(ay),
                            xanchor="center", yanchor="middle", showarrow=False, textangle=-90,
                            font=dict(family="DejaVu Sans", size=9.5, color="#262626")))
    cx, cy = CAPTION_POS[i]
    annotations.append(dict(text=CAPTIONS[i], xref="paper", yref="paper", x=fx(cx), y=fy(cy),
                            xanchor="center", yanchor="middle", showarrow=False,
                            font=dict(family="Liberation Serif", size=12, color="#111111")))

layout["shapes"] = shapes
layout["annotations"] = annotations
fig.update_layout(**layout)
fig.write_html("out.html", config={"displayModeBar": False},
               post_script="document.body.style.margin='0px';document.body.style.padding='0px';")
